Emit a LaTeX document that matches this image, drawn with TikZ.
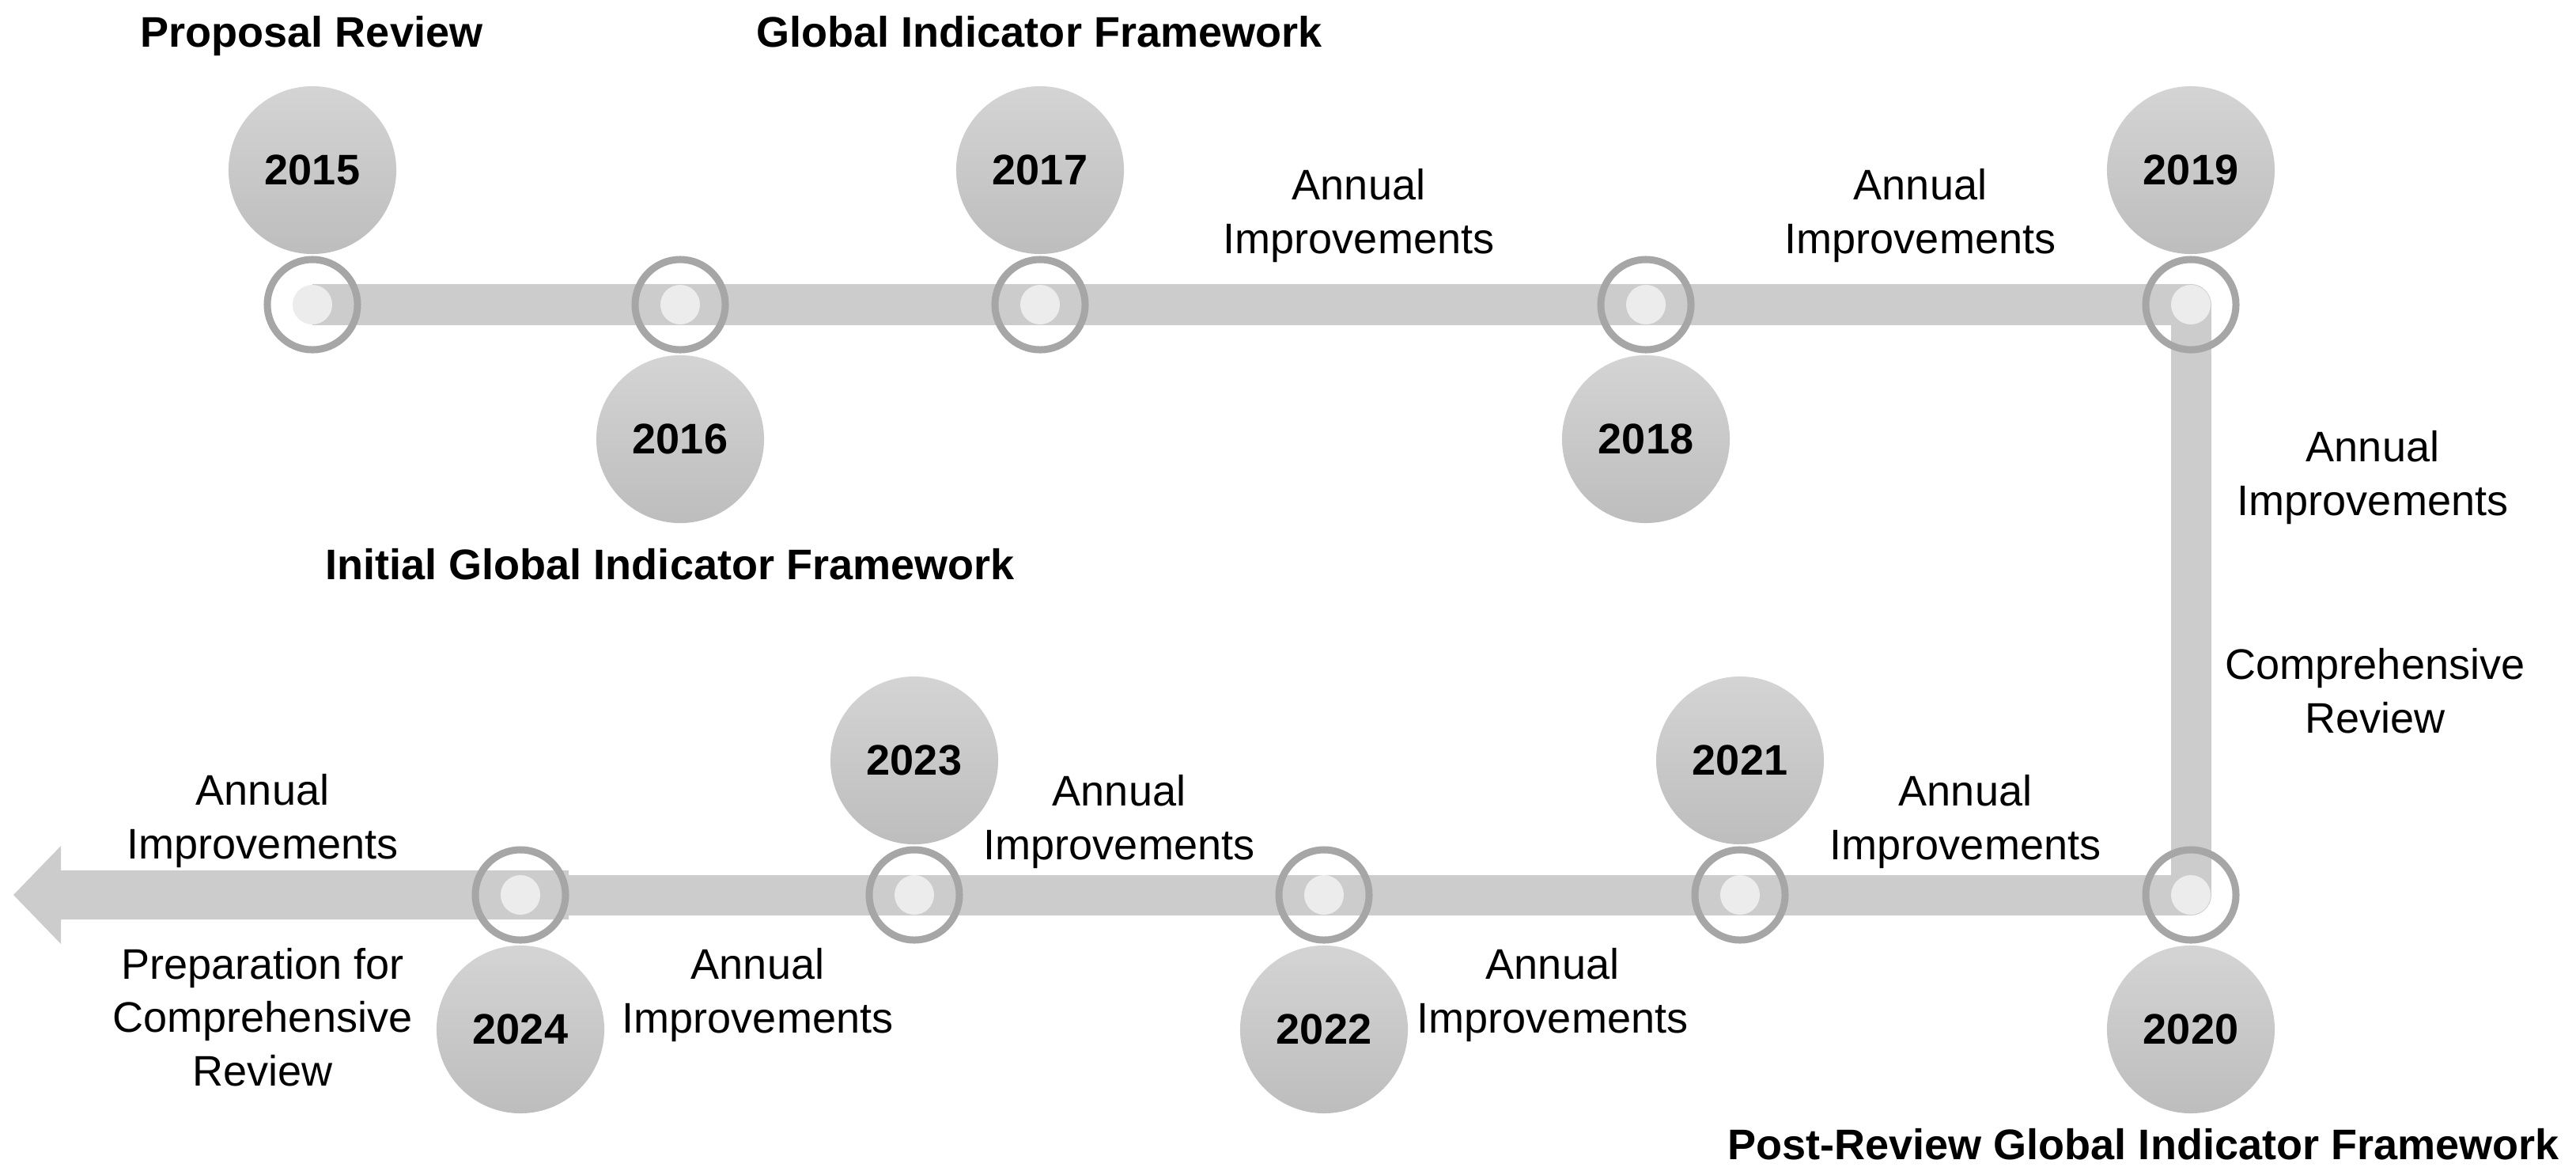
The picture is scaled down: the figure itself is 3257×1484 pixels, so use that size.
\documentclass[tikz,border=0pt]{standalone}
\usepackage{fontspec}
\setmainfont{Liberation Sans}
\definecolor{trackc}{HTML}{CCCCCC}
\definecolor{ringc}{HTML}{A6A6A6}
\definecolor{dotc}{HTML}{ECECEC}
\definecolor{bigtop}{HTML}{D4D4D4}
\definecolor{bigbot}{HTML}{BDBDBD}
\newcommand\lblfont{\fontsize{15.37pt}{19.06pt}\selectfont}
\newcommand\boldlblfont{\fontsize{15.37pt}{19.06pt}\selectfont\bfseries}
\begin{document}
\begin{tikzpicture}[x=0.01cm,y=-0.01cm,
  track/.style={draw=trackc, line width=0.51cm, line join=round},
  ring/.style={circle, draw=ringc, line width=0.09cm, minimum size=1.14cm, inner sep=0pt},
  dotn/.style={circle, fill=dotc, minimum size=0.5cm, inner sep=0pt},
  year/.style={circle, minimum size=2.12cm, inner sep=0pt, top color=bigtop, bottom color=bigbot, font=\boldlblfont},
  lbl/.style={align=center, font=\lblfont, anchor=base, inner sep=0pt},
  ttl/.style={font=\boldlblfont, anchor=base, inner sep=0pt}]
\useasboundingbox (0,0) rectangle (3257,1484);
% milestone centres
\coordinate (p15) at (395,385);
\coordinate (p16) at (860,385);
\coordinate (p17) at (1315,385);
\coordinate (p18) at (2081,385);
\coordinate (p19) at (2770,385);
\coordinate (p20) at (2770,1131);
\coordinate (p21) at (2200,1131);
\coordinate (p22) at (1674,1131);
\coordinate (p23) at (1156,1131);
\coordinate (p24) at (658,1131);
\coordinate (ae) at (719,1131);
% arrow head going left
\fill[trackc] (ae) ++(0,-31) -- (77,1100) -- (77,1069) -- (17,1131) -- (77,1193) -- (77,1162) -- ++(642,0) -- cycle;
% track
\draw[track] (p15) -- (p19) -- (p20) -- (ae);
% dots and rings
\foreach \p in {p15,p16,p17,p18,p19,p20,p21,p22,p23,p24}{
  \node[dotn] (d\p) at (\p) {};
  \node[ring] (r\p) at (\p) {};
}
% year circles
\node[year] (y15) at (395,215) {2015};
\node[year] (y16) at (860,555) {2016};
\node[year] (y17) at (1315,215) {2017};
\node[year] (y18) at (2081,555) {2018};
\node[year] (y19) at (2770,215) {2019};
\node[year] (y20) at (2770,1301) {2020};
\node[year] (y21) at (2200,961) {2021};
\node[year] (y22) at (1674,1301) {2022};
\node[year] (y23) at (1156,961) {2023};
\node[year] (y24) at (658,1301) {2024};
% titles
\node[ttl] (t15) at (394,59) {Proposal Review};
\node[ttl] (t17) at (1314,59) {Global Indicator Framework};
\node[ttl] (t16) at (847,732) {Initial Global Indicator Framework};
\node[ttl] (t20) at (2710,1465) {Post-Review Global Indicator Framework};
% annual improvement labels (anchored at the baseline of the last line)
\node[lbl] (a1) at (1718,320) {Annual\\Improvements};
\node[lbl] (a2) at (2428,320) {Annual\\Improvements};
\node[lbl] (a3) at (3000,651) {Annual\\Improvements};
\node[lbl] (a4) at (3003,926) {Comprehensive\\Review};
\node[lbl] (a5) at (2485,1086) {Annual\\Improvements};
\node[lbl] (a6) at (1415,1086) {Annual\\Improvements};
\node[lbl] (a7) at (332,1085) {Annual\\Improvements};
\node[lbl] (a8) at (1963,1305) {Annual\\Improvements};
\node[lbl] (a9) at (958,1305) {Annual\\Improvements};
\node[lbl] (a10) at (332,1372) {Preparation for\\Comprehensive\\Review};
\end{tikzpicture}
\end{document}
